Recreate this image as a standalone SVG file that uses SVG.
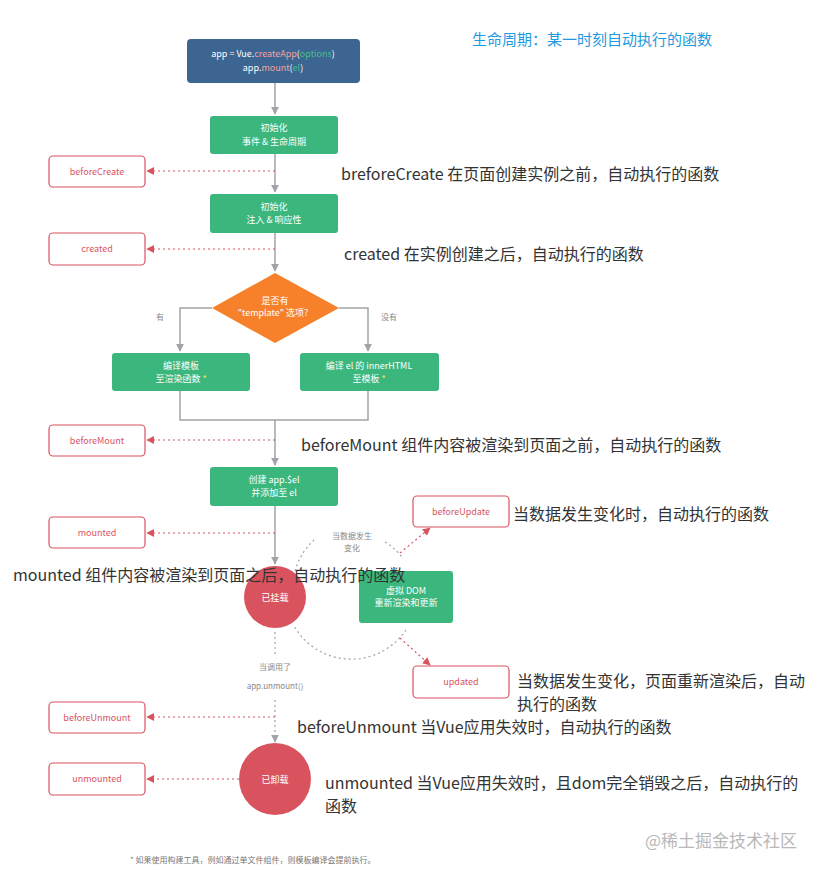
<svg xmlns="http://www.w3.org/2000/svg" width="824" height="875" viewBox="0 0 824 875">
<style>
text{font-family:"Noto Sans CJK SC","Liberation Sans",sans-serif}
.g{fill:#3bb67d}
.wt{fill:#fff;font-size:9px;text-anchor:middle}
.hook rect{fill:#fff;stroke:#d9535f;stroke-width:1.2}
.hook text{fill:#d9535f;font-size:9px;text-anchor:middle}
.ann{fill:#333;font-size:16px}
.sl{stroke:#a0a4a8;stroke-width:1.5;fill:none}
.rd{stroke:#d9535f;stroke-width:1.2;stroke-dasharray:2 3;fill:none}
.gd{stroke:#a0a4a8;stroke-width:1.2;stroke-dasharray:2 3;fill:none}
.lbl{fill:#888;font-size:8px;text-anchor:middle}
</style>
<defs>
<marker id="ag" viewBox="0 0 10 10" refX="9" refY="5" markerWidth="8" markerHeight="8" orient="auto" markerUnits="userSpaceOnUse"><path d="M0 0L10 5L0 10z" fill="#a0a4a8"/></marker>
<marker id="ar" viewBox="0 0 10 10" refX="9" refY="5" markerWidth="8" markerHeight="8" orient="auto" markerUnits="userSpaceOnUse"><path d="M0 0L10 5L0 10z" fill="#d9535f"/></marker>
</defs>
<rect width="824" height="875" fill="#fff"/>
<g id="connectors">
<path class="sl" d="M275 83V114" marker-end="url(#ag)"/>
<path class="sl" d="M275 154V192" marker-end="url(#ag)"/>
<path class="sl" d="M275 233V271" marker-end="url(#ag)"/>
<path class="sl" d="M212 308H180V351" marker-end="url(#ag)"/>
<path class="sl" d="M339 308H368V351" marker-end="url(#ag)"/>
<path class="sl" d="M180 391V420H368V391M275 420V465"/>
<path class="sl" d="M275 458V465" marker-end="url(#ag)"/>
<path class="sl" d="M275 506V564" marker-end="url(#ag)"/>
<path class="gd" d="M275 632V654M275 700V738"/>
<path class="sl" d="M275 735V742" marker-end="url(#ag)"/>
<path class="rd" d="M275 171H147" marker-end="url(#ar)"/>
<path class="rd" d="M275 249H147" marker-end="url(#ar)"/>
<path class="rd" d="M275 440H147" marker-end="url(#ar)"/>
<path class="rd" d="M275 533H147" marker-end="url(#ar)"/>
<path class="rd" d="M275 717H147" marker-end="url(#ar)"/>
<path class="rd" d="M239 779H147" marker-end="url(#ar)"/>
<path class="rd" d="M400 553L430 528" marker-end="url(#ar)"/>
<path class="rd" d="M400 638L430 665" marker-end="url(#ar)"/>
<path class="gd" d="M295 571A66 66 0 0 1 314 540"/>
<path class="gd" d="M385 542A66 66 0 0 1 402 557"/>
<path class="gd" d="M406 630A66 66 0 0 1 294 626"/>
<text class="lbl" x="352" y="539">当数据发生</text>
<text class="lbl" x="352" y="551">变化</text>
<text class="lbl" x="160" y="320">有</text>
<text class="lbl" x="389" y="320">没有</text>
<text class="lbl" x="275" y="670">当调用了</text>
<text class="lbl" x="275" y="689">app.unmount()</text>
</g>
<g id="start"><rect x="187" y="39" width="173" height="44" rx="4" fill="#3d6591"/>
<text x="273" y="57" font-size="9" text-anchor="middle" fill="#fff">app = Vue.<tspan fill="#f3a2a0">createApp</tspan>(<tspan fill="#45c08a">options</tspan>)</text>
<text x="273" y="71" font-size="9" text-anchor="middle" fill="#fff">app.<tspan fill="#f3a2a0">mount</tspan>(<tspan fill="#45c08a">el</tspan>)</text></g>
<g id="init1"><rect class="g" x="210" y="116" width="128" height="38" rx="3"/><text class="wt" x="274" y="131">初始化</text><text class="wt" x="274" y="145">事件 &amp; 生命周期</text></g>
<g id="init2"><rect class="g" x="210" y="194" width="128" height="39" rx="3"/><text class="wt" x="274" y="210">初始化</text><text class="wt" x="274" y="223">注入 &amp; 响应性</text></g>
<g id="decision"><path d="M275 273L339 308L275 343L212 308z" fill="#f7812a"/><text class="wt" x="275" y="304">是否有</text><text class="wt" x="273" y="316">"template" 选项?</text></g>
<g id="compileT"><rect class="g" x="112" y="353" width="138" height="38" rx="3"/><text class="wt" x="181" y="369">编译模板</text><text class="wt" x="181" y="382">至渲染函数 <tspan fill="#f5e36b">*</tspan></text></g>
<g id="compileEl"><rect class="g" x="300" y="353" width="139" height="38" rx="3"/><text class="wt" x="369" y="369">编译 el 的 innerHTML</text><text class="wt" x="369" y="382">至模板 <tspan fill="#f5e36b">*</tspan></text></g>
<g id="createEl"><rect class="g" x="210" y="467" width="128" height="39" rx="3"/><text class="wt" x="274" y="483">创建 app.$el</text><text class="wt" x="274" y="496">并添加至 el</text></g>
<g id="mountedC"><circle cx="275" cy="597" r="31" fill="#d9535f"/><text class="wt" x="275" y="601">已挂载</text></g>
<g id="vdom"><rect class="g" x="359" y="571" width="94" height="52" rx="3"/><text class="wt" x="406" y="594">虚拟 DOM</text><text class="wt" x="406" y="606">重新渲染和更新</text></g>
<g id="unmountedC"><circle cx="275" cy="779" r="36" fill="#d9535f"/><text class="wt" x="275" y="783">已卸载</text></g>
<g id="h1" class="hook"><rect x="49" y="156" width="96" height="31" rx="4"/><text x="97" y="175">beforeCreate</text></g>
<g id="h2" class="hook"><rect x="49" y="233" width="96" height="32" rx="4"/><text x="97" y="252">created</text></g>
<g id="h3" class="hook"><rect x="49" y="425" width="96" height="31" rx="4"/><text x="97" y="444">beforeMount</text></g>
<g id="h4" class="hook"><rect x="49" y="517" width="96" height="31" rx="4"/><text x="97" y="536">mounted</text></g>
<g id="h5" class="hook"><rect x="413" y="496" width="96" height="31" rx="4"/><text x="461" y="515">beforeUpdate</text></g>
<g id="h6" class="hook"><rect x="413" y="666" width="96" height="32" rx="4"/><text x="461" y="685">updated</text></g>
<g id="h7" class="hook"><rect x="49" y="702" width="96" height="31" rx="4"/><text x="97" y="721">beforeUnmount</text></g>
<g id="h8" class="hook"><rect x="49" y="763" width="96" height="32" rx="4"/><text x="97" y="782">unmounted</text></g>
<g id="annotations">
<text x="472" y="45" font-size="15" fill="#1e9ae0">生命周期：某一时刻自动执行的函数</text>
<text class="ann" x="341" y="180">breforeCreate 在页面创建实例之前，自动执行的函数</text>
<text class="ann" x="344" y="260">created 在实例创建之后，自动执行的函数</text>
<text class="ann" x="301" y="451">beforeMount 组件内容被渲染到页面之前，自动执行的函数</text>
<text class="ann" x="513" y="520">当数据发生变化时，自动执行的函数</text>
<text class="ann" x="13" y="581">mounted 组件内容被渲染到页面之后，自动执行的函数</text>
<text class="ann" x="517" y="687">当数据发生变化，页面重新渲染后，自动</text>
<text class="ann" x="517" y="710">执行的函数</text>
<text class="ann" x="325" y="789">unmounted 当Vue应用失效时，且dom完全销毁之后，自动执行的</text>
<text class="ann" x="325" y="812">函数</text>
<text class="ann" x="297" y="733">beforeUnmount 当Vue应用失效时，自动执行的函数</text>
<text x="130" y="863" font-size="8" fill="#777">* 如果使用构建工具，例如通过单文件组件，则模板编译会提前执行。</text>
<text x="645" y="847" font-size="17" fill="#b8b8b8">@稀土掘金技术社区</text>
</g>
</svg>
